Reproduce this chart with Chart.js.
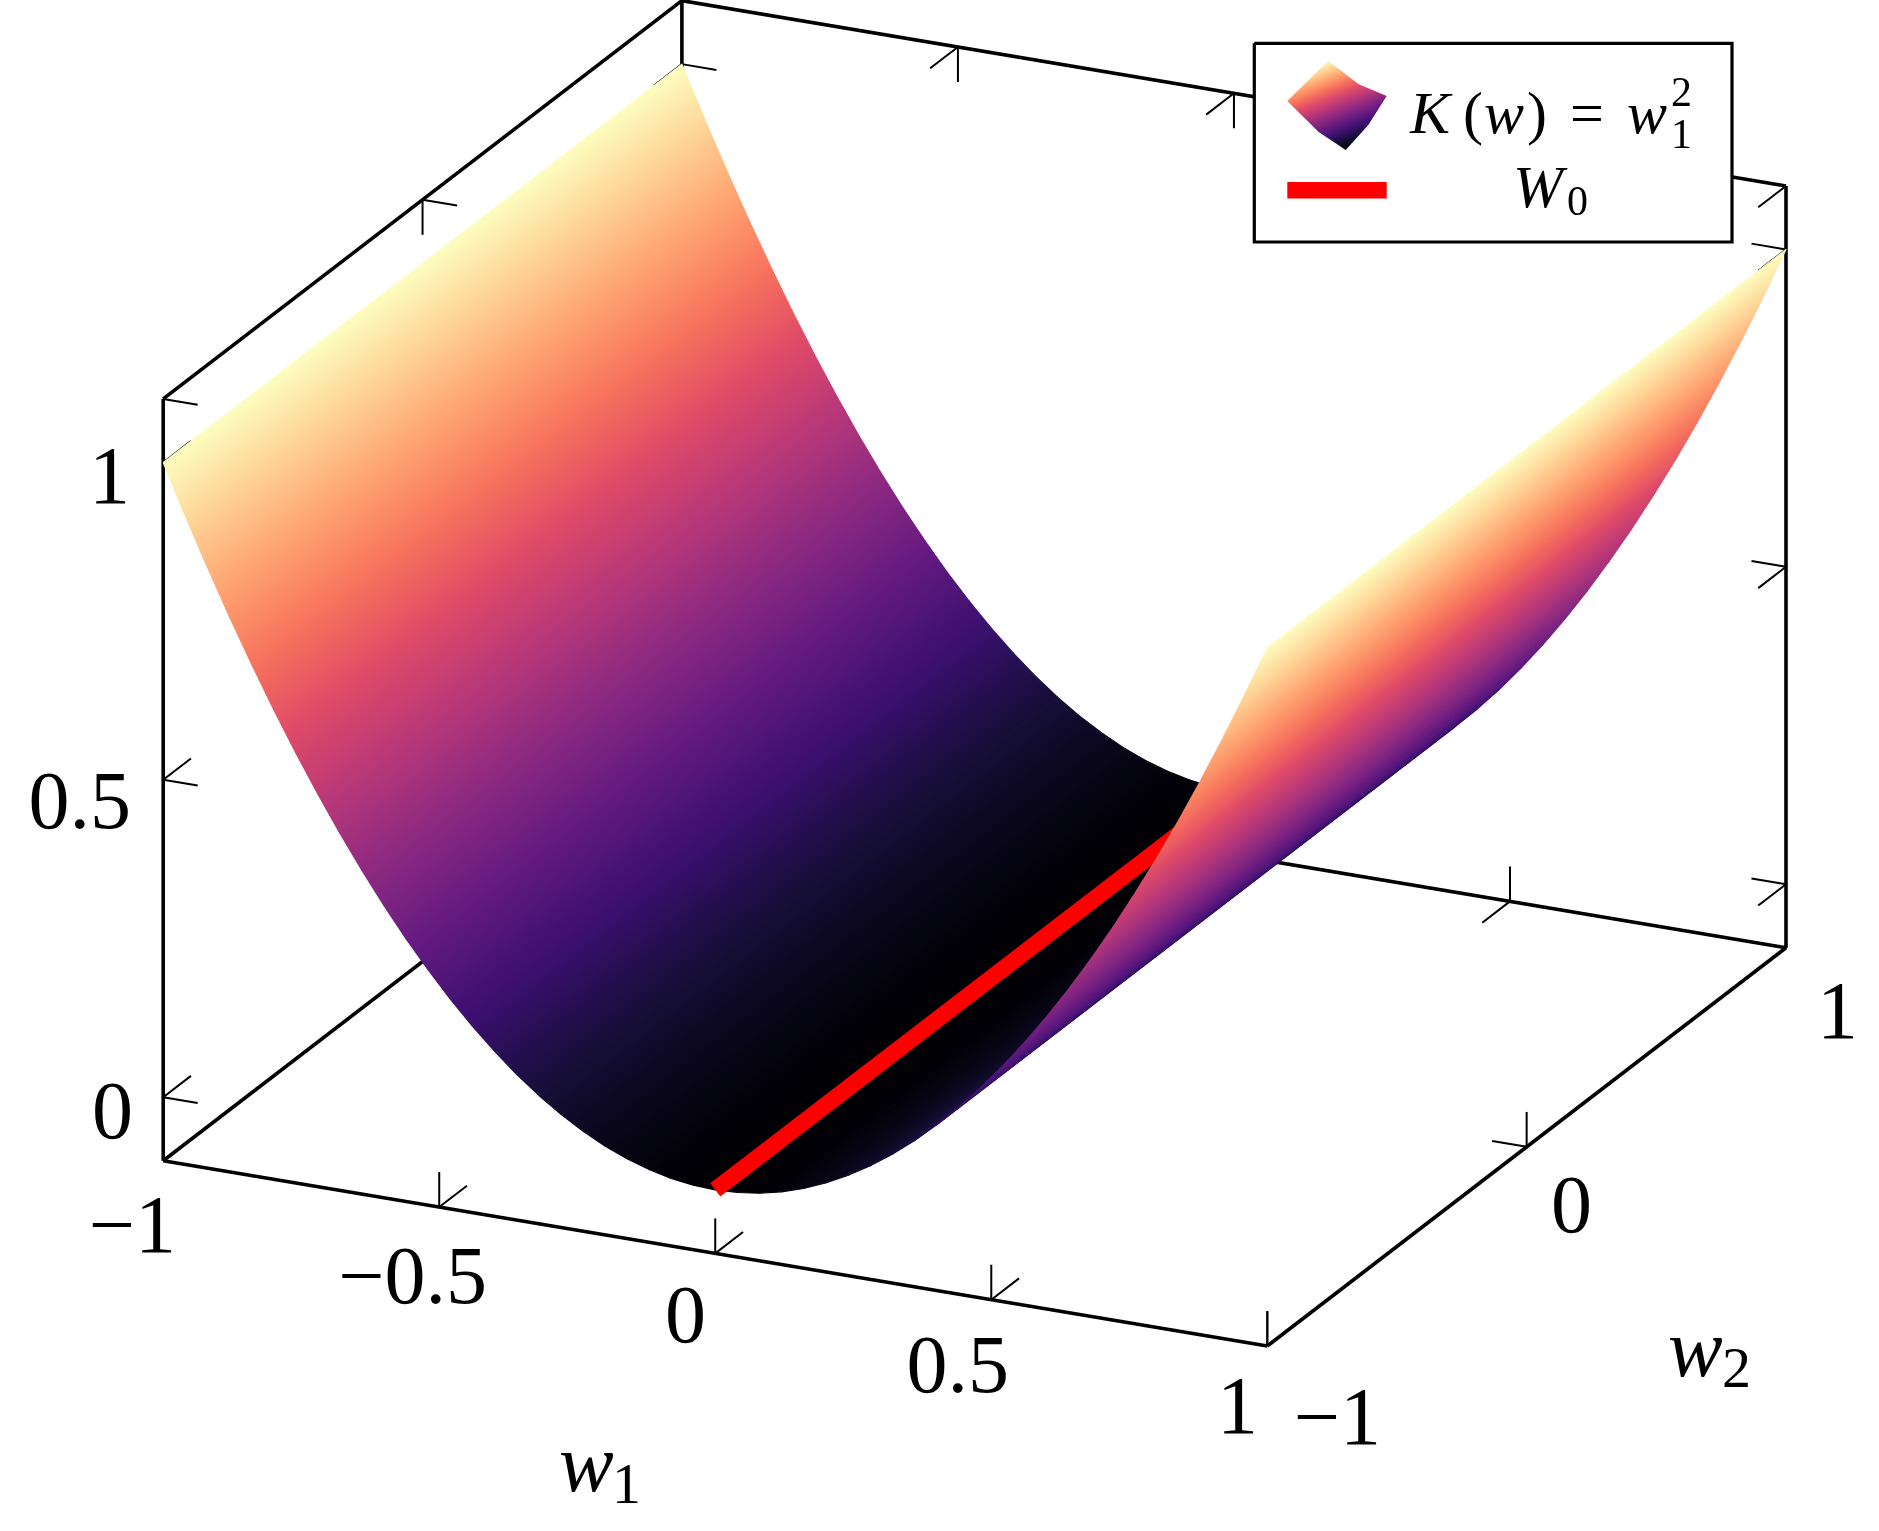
<!DOCTYPE html>
<html><head><meta charset="utf-8">
<style>html,body{margin:0;padding:0;background:#fff}canvas{display:block}</style>
<script src="https://cdn.jsdelivr.net/npm/chart.js@4/dist/chart.umd.min.js"></script>
</head><body><canvas id="c" width="1879" height="1531"></canvas>
<script>
// ---------- data ----------
const w1Samples = [-1,-0.96,-0.92,-0.88,-0.84,-0.8,-0.76,-0.72,-0.68,-0.64,-0.6,-0.56,-0.52,-0.48,-0.44,-0.4,-0.36,-0.32,-0.28,-0.24,-0.2,-0.16,-0.12,-0.08,-0.04,0,0.04,0.08,0.12,0.16,0.2,0.24,0.28,0.32,0.36,0.4,0.44,0.48,0.52,0.56,0.6,0.64,0.68,0.72,0.76,0.8,0.84,0.88,0.92,0.96,1];
const kSamples = [1,0.9216,0.8464,0.7744,0.7056,0.64,0.5776,0.5184,0.4624,0.4096,0.36,0.3136,0.2704,0.2304,0.1936,0.16,0.1296,0.1024,0.0784,0.0576,0.04,0.0256,0.0144,0.0064,0.0016,0,0.0016,0.0064,0.0144,0.0256,0.04,0.0576,0.0784,0.1024,0.1296,0.16,0.1936,0.2304,0.2704,0.3136,0.36,0.4096,0.4624,0.5184,0.5776,0.64,0.7056,0.7744,0.8464,0.9216,1];
const w2Range = [-1,1];
const zRange = [-0.1,1.1];
const w1Ticks = [-1,-0.5,0,0.5,1];
const w2Ticks = [-1,0,1];
const zTicks = [0,0.5,1];
const w0Line = {w1:0, k:0};
const magma = ['#000004','#140e36','#3b0f70','#641a80','#8c2981','#b73779','#de4968','#f7705c','#fe9f6d','#fecf92','#fcfdbf'];

// ---------- layout ----------
const ORIGIN=[163.2,1160.7], E1=[552.05,92.65], E2=[259.35,-199.15], EZ=634.8;
const TL1=0.0625, TL2=0.107, TLZ=0.055;   // tick lengths in axis units
const AXIS_W=3.6, TICK_W=2.0, RED_W=16.6;
const FONT='"Liberation Serif"';
const SERIF=82, LEG=60, LEGSM=42, AX=82, AXSM=58;

function P(a,b,z){
  const u=a-w1Ticks[0], v=b-w2Range[0], h=z-zRange[0];
  return {x:ORIGIN[0]+u*E1[0]+v*E2[0], y:ORIGIN[1]+u*E1[1]+v*E2[1]-h*EZ};
}
function hex(c){return [1,3,5].map(i=>parseInt(c.substr(i,2),16));}
function cmap(k){
  const t=Math.max(0,Math.min(1,k))*(magma.length-1), i=Math.min(magma.length-2,Math.floor(t)), f=t-i;
  const a=hex(magma[i]), b=hex(magma[i+1]);
  return 'rgb('+a.map((v,j)=>Math.round(v+(b[j]-v)*f)).join(',')+')';
}
const datasets=[]; let seq=0;
function add(data,o){
  datasets.push(Object.assign({data,order:-(seq++),fill:false,tension:0,pointRadius:0,pointHoverRadius:0,
    borderColor:'#000',borderWidth:TICK_W,clip:false,borderCapStyle:'butt'},o));
}
function seg(p,q,w){add([p,q],{borderWidth:w});}

const [zMin,zMax]=zRange, [wA,wB]=w2Range, lo=w1Ticks[0], hi=w1Ticks[w1Ticks.length-1];
// box
[[P(lo,wA,zMin),P(hi,wA,zMin)],[P(hi,wA,zMin),P(hi,wB,zMin)],[P(hi,wB,zMin),P(lo,wB,zMin)],[P(lo,wB,zMin),P(lo,wA,zMin)],
 [P(lo,wA,zMin),P(lo,wA,zMax)],[P(lo,wB,zMin),P(lo,wB,zMax)],[P(hi,wB,zMin),P(hi,wB,zMax)],
 [P(lo,wA,zMax),P(lo,wB,zMax)],[P(lo,wB,zMax),P(hi,wB,zMax)]].forEach(s=>seg(s[0],s[1],AXIS_W));
// ticks
w1Ticks.forEach(t=>{
  seg(P(t,wA,zMin),P(t,wA,zMin+TLZ),TICK_W); seg(P(t,wA,zMin),P(t,wA+TL2,zMin),TICK_W);
  seg(P(t,wB,zMin),P(t,wB,zMin+TLZ),TICK_W); seg(P(t,wB,zMin),P(t,wB-TL2,zMin),TICK_W);
  seg(P(t,wB,zMax),P(t,wB,zMax-TLZ),TICK_W); seg(P(t,wB,zMax),P(t,wB-TL2,zMax),TICK_W);
});
w2Ticks.forEach(t=>{
  seg(P(hi,t,zMin),P(hi,t,zMin+TLZ),TICK_W); seg(P(hi,t,zMin),P(hi-TL1,t,zMin),TICK_W);
  seg(P(lo,t,zMin),P(lo,t,zMin+TLZ),TICK_W); seg(P(lo,t,zMin),P(lo+TL1,t,zMin),TICK_W);
  seg(P(lo,t,zMax),P(lo,t,zMax-TLZ),TICK_W); seg(P(lo,t,zMax),P(lo+TL1,t,zMax),TICK_W);
});
zTicks.forEach(t=>{
  seg(P(lo,wA,t),P(lo+TL1,wA,t),TICK_W); seg(P(lo,wA,t),P(lo,wA+TL2,t),TICK_W);
  seg(P(lo,wB,t),P(lo+TL1,wB,t),TICK_W); seg(P(lo,wB,t),P(lo,wB-TL2,t),TICK_W);
  seg(P(hi,wB,t),P(hi-TL1,wB,t),TICK_W); seg(P(hi,wB,t),P(hi,wB-TL2,t),TICK_W);
});

// surface strips, painted in w1 order so the far wing overlaps the trough
function stripPaint(i){
  return function(ctx){
    const chart=ctx.chart, sx=chart.scales.x, sy=chart.scales.y;
    const k0=kSamples[i], k1=kSamples[i+1], mid=cmap((k0+k1)/2);
    if(!sx||!sy) return mid;
    const px=p=>({x:sx.getPixelForValue(p.x),y:sy.getPixelForValue(p.y)});
    const a=px(P(w1Samples[i],wA,k0)), b=px(P(w1Samples[i+1],wA,k1));
    const e=px(P(w1Samples[i],wB,k0));
    const dx=e.x-a.x, dy=e.y-a.y, L=Math.hypot(dx,dy);
    if(!isFinite(L)||L===0) return mid;
    const nx=-dy/L, ny=dx/L;
    const s=(b.x-a.x)*nx+(b.y-a.y)*ny;
    if(!isFinite(s)||Math.abs(s)<0.01) return mid;
    const g=chart.ctx.createLinearGradient(a.x,a.y,a.x+nx*s,a.y+ny*s);
    g.addColorStop(0,cmap(k0)); g.addColorStop(0.5,mid); g.addColorStop(1,cmap(k1));
    return g;
  };
}
function addStrip(i){
  const pts=[P(w1Samples[i],wA,kSamples[i]),P(w1Samples[i],wB,kSamples[i]),P(w1Samples[i+1],wB,kSamples[i+1]),P(w1Samples[i+1],wA,kSamples[i+1]),P(w1Samples[i],wA,kSamples[i])];
  const paint=stripPaint(i);
  add(pts,{fill:'shape',backgroundColor:paint,borderColor:paint,borderWidth:1.1,borderJoinStyle:'round'});
}
const redAfter=w1Samples.indexOf(0.4);
for(let i=0;i<redAfter;i++) addStrip(i);
add([P(w0Line.w1,wA,w0Line.k),P(w0Line.w1,wB,w0Line.k)],{borderColor:'#ff0000',borderWidth:RED_W});
for(let i=redAfter;i<w1Samples.length-1;i++) addStrip(i);

// legend frame, key swatch and red key
const box={l:1254.3,r:1732,t:43.3,b:242};
add([{x:box.l,y:box.t},{x:box.r,y:box.t},{x:box.r,y:box.b},{x:box.l,y:box.b},{x:box.l,y:box.t}],
  {fill:'shape',backgroundColor:'#fff',borderColor:'#000',borderWidth:3.2,borderJoinStyle:'miter'});
const swatchX=[1328.3,1358.3,1386.7,1368.3,1345.7,1318.3,1287.3,1328.3];
const swatchY=[60.7,84,96,125,150,131.7,101,60.7];
add(swatchX.map((x,i)=>({x,y:swatchY[i]})),{fill:'shape',borderWidth:0,backgroundColor:(c)=>{
  const g=c.chart.ctx.createLinearGradient(1328.3,60.7,1361.4,143.7);
  magma.forEach((m,i)=>g.addColorStop(1-i/(magma.length-1),m));
  return g;}});
add([{x:1287.3,y:190.3},{x:1386.7,y:190.3}],{borderColor:'#ff0000',borderWidth:RED_W});

// text
const roman=s=>s+'px '+FONT, italic=s=>'italic '+s+'px '+FONT;
const texts=[
 // z axis
 ['1',130,503,roman(SERIF),'right'],['0.5',131,828,roman(SERIF),'right'],['0',133,1138,roman(SERIF),'right'],
 // w1 axis
 ['\u22121',176,1252,roman(SERIF),'right'],['\u22120.5',487,1303,roman(SERIF),'right'],['0',706,1342,roman(SERIF),'right'],
 ['0.5',1009,1392,roman(SERIF),'right'],['1',1258,1433,roman(SERIF),'right'],
 // w2 axis
 ['\u22121',1381,1444,roman(SERIF),'right'],['0',1592,1232,roman(SERIF),'right'],['1',1858,1038,roman(SERIF),'right'],
 // axis labels
 ['w',559,1491,italic(AX),'left'],['1',612,1503,roman(AXSM),'left'],
 ['w',1668,1376,italic(AX),'left'],['2',1722,1387,roman(AXSM),'left'],
 // legend
 ['K',1410,133,italic(LEG),'left'],['(',1463,133,roman(LEG),'left'],['w',1484,133,italic(LEG),'left'],[')',1527,133,roman(LEG),'left'],
 ['=',1570,133,roman(LEG),'left'],['w',1627,133,italic(LEG),'left'],['2',1671,106,roman(LEGSM),'left'],['1',1671,148,roman(LEGSM),'left'],
 ['W',1513,207,italic(LEG),'left'],['0',1567,215,roman(LEGSM),'left']
];
const textPlugin={id:'textLabels',afterDatasetsDraw(chart){
  const c=chart.ctx, sx=chart.scales.x, sy=chart.scales.y;
  c.save(); c.fillStyle='#000'; c.textBaseline='alphabetic';
  texts.forEach(([s,x,y,f,al])=>{c.font=f;c.textAlign=al;c.fillText(s,sx.getPixelForValue(x),sy.getPixelForValue(y));});
  c.restore();
}};

new Chart(document.getElementById('c').getContext('2d'),{
  type:'line',
  data:{datasets},
  options:{
    responsive:false,animation:false,devicePixelRatio:1,
    layout:{padding:0},
    parsing:{xAxisKey:'x',yAxisKey:'y'},
    scales:{
      x:{type:'linear',min:0,max:1879,display:false},
      y:{type:'linear',min:0,max:1531,reverse:true,display:false}
    },
    plugins:{legend:{display:false},tooltip:{enabled:false},title:{display:false}},
    events:[]
  },
  plugins:[textPlugin]
});
</script></body></html>
